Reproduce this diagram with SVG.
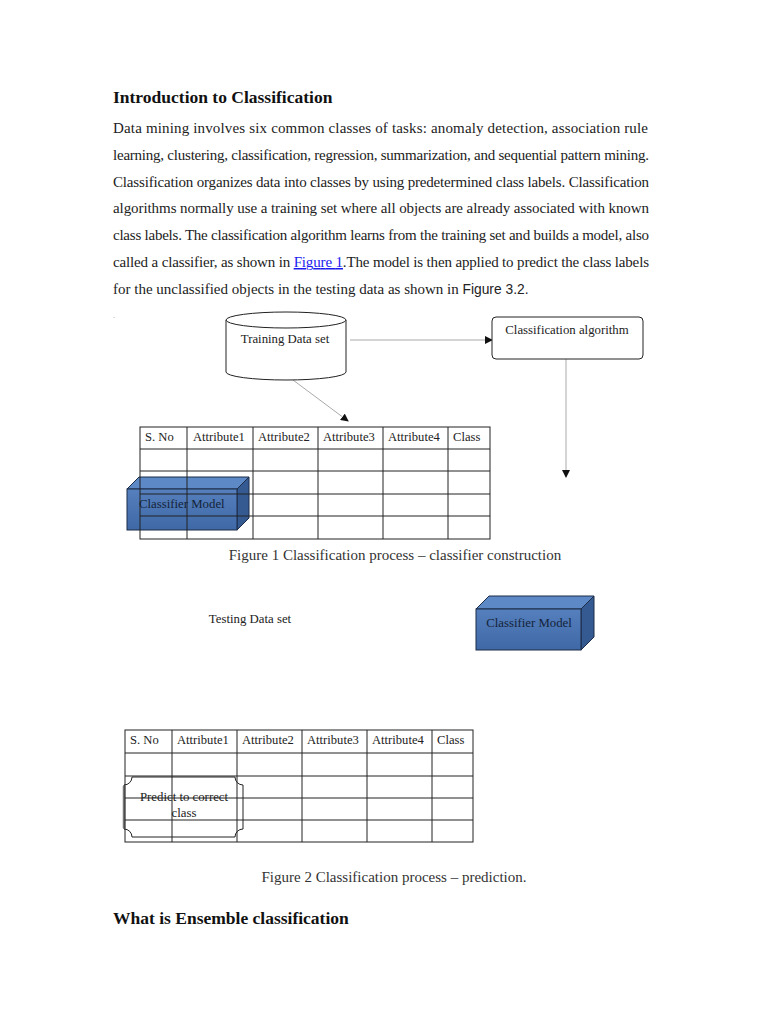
<svg xmlns="http://www.w3.org/2000/svg" width="768" height="1024" viewBox="0 0 768 1024">
<defs>
<marker id="ah" markerWidth="8" markerHeight="8" refX="7" refY="4" orient="auto" markerUnits="userSpaceOnUse">
<path d="M0,0 L8,4 L0,8 Z" fill="#111"/>
</marker>
<linearGradient id="gf" x1="0" y1="0" x2="0" y2="1">
<stop offset="0" stop-color="#5580bd"/>
<stop offset="1" stop-color="#3f68a6"/>
</linearGradient>
</defs>
<style>
.p{font-family:"Liberation Serif","Times New Roman",serif;font-size:15px;fill:#222}
.h{font-family:"Liberation Serif","Times New Roman",serif;font-size:17.5px;font-weight:bold;fill:#111}
.s{font-family:"Liberation Serif","Times New Roman",serif;font-size:12.8px;fill:#222}
.t{font-family:"Liberation Serif","Times New Roman",serif;font-size:12.6px;fill:#222}
.c{font-family:"Liberation Serif","Times New Roman",serif;font-size:15px;fill:#333}
.g{fill:none;stroke:#222;stroke-width:1}
.conn{stroke:#aaa;stroke-width:1;fill:none}
.front{fill:url(#gf);stroke:#1d2d48;stroke-width:1}
.top{fill:#5d89c6;stroke:#1d2d48;stroke-width:1}
.side{fill:#355a92;stroke:#1d2d48;stroke-width:1}
.ct{font-family:"Liberation Serif","Times New Roman",serif;font-size:12.8px;fill:#14233a}
</style>
<rect width="768" height="1024" fill="#fff"/>

<g id="text-body">
<text class="h" x="113" y="103">Introduction to Classification</text>
<text class="p" x="113" y="133" textLength="535" lengthAdjust="spacing">Data mining involves six common classes of tasks: anomaly detection, association rule</text>
<text class="p" x="113" y="160" textLength="536" lengthAdjust="spacing">learning, clustering, classification, regression, summarization, and sequential pattern mining.</text>
<text class="p" x="113" y="187" textLength="536" lengthAdjust="spacing">Classification organizes data into classes by using predetermined class labels. Classification</text>
<text class="p" x="113" y="213" textLength="536" lengthAdjust="spacing">algorithms normally use a training set where all objects are already associated with known</text>
<text class="p" x="113" y="240" textLength="536" lengthAdjust="spacing">class labels. The classification algorithm learns from the training set and builds a model, also</text>
<text class="p" x="113" y="267" textLength="536" lengthAdjust="spacing">called a classifier, as shown in <tspan fill="#1a1aee" text-decoration="underline">Figure 1</tspan>.The model is then applied to predict the class labels</text>
<text class="p" x="113" y="294">for the unclassified objects in the testing data as shown in <tspan style="font-family:'Liberation Sans',Arial,sans-serif;font-size:13.8px">Figure 3.2.</tspan></text>
<text x="113" y="318" style="font-family:'Liberation Serif',serif;font-size:8px;fill:#999">.</text>
</g>

<g id="connectors">
<line class="conn" x1="350" y1="340" x2="492" y2="340" marker-end="url(#ah)"/>
<line class="conn" x1="293" y1="380" x2="348" y2="421" marker-end="url(#ah)"/>
<line class="conn" x1="566" y1="359" x2="566" y2="477" marker-end="url(#ah)"/>
</g>

<g id="training-data">
<path d="M226,320 V372 A60,8 0 0 0 346,372 V320" fill="#fff" stroke="#222"/>
<ellipse cx="286" cy="320" rx="60" ry="8" fill="#fff" stroke="#222"/>
<text class="s" x="285" y="343" text-anchor="middle">Training Data set</text>
</g>

<g id="classification-algorithm">
<rect x="492" y="317" width="151" height="42" rx="4" fill="#fff" stroke="#222"/>
<text class="s" x="567" y="334" text-anchor="middle">Classification algorithm</text>
</g>

<g id="classifier-model-1">
<polygon class="top" points="127,489 139,477 249,477 237,489"/>
<polygon class="side" points="237,489 249,477 249,518 237,530"/>
<rect class="front" x="127" y="489" width="110" height="41"/>
<text class="ct" x="139" y="508">Classifier Model</text>
</g>

<g id="table-1">
<rect class="g" x="140" y="427" width="350" height="112"/>
<line class="g" x1="140" y1="449" x2="490" y2="449"/>
<line class="g" x1="140" y1="471" x2="490" y2="471"/>
<line class="g" x1="140" y1="494" x2="490" y2="494"/>
<line class="g" x1="140" y1="516" x2="490" y2="516"/>
<line class="g" x1="187" y1="427" x2="187" y2="539"/>
<line class="g" x1="253" y1="427" x2="253" y2="539"/>
<line class="g" x1="318" y1="427" x2="318" y2="539"/>
<line class="g" x1="383" y1="427" x2="383" y2="539"/>
<line class="g" x1="448" y1="427" x2="448" y2="539"/>
<text class="t" x="145" y="441">S. No</text>
<text class="t" x="193" y="441">Attribute1</text>
<text class="t" x="258" y="441">Attribute2</text>
<text class="t" x="323" y="441">Attribute3</text>
<text class="t" x="388" y="441">Attribute4</text>
<text class="t" x="453" y="441">Class</text>
</g>

<text class="c" x="395" y="560" text-anchor="middle">Figure 1 Classification process – classifier construction</text>

<g id="testing-data">
<text class="s" x="250" y="623" text-anchor="middle">Testing Data set</text>
</g>

<g id="classifier-model-2">
<polygon class="top" points="476,609 489,596 594,596 581,609"/>
<polygon class="side" points="581,609 594,596 594,637 581,650"/>
<rect class="front" x="476" y="609" width="105" height="41"/>
<text class="ct" x="529" y="627" text-anchor="middle">Classifier Model</text>
</g>

<g id="predict">
<path d="M132,777 H235 A8,8 0 0 0 243,785 V829 A8,8 0 0 0 235,837 H132 A8,8 0 0 0 124,829 V785 A8,8 0 0 0 132,777 Z" fill="none" stroke="#222"/>
<line x1="124" y1="786" x2="124" y2="828" stroke="#777" stroke-width="2.5"/>
<text class="s" x="184" y="801" text-anchor="middle">Predict to correct</text>
<text class="s" x="184" y="817" text-anchor="middle">class</text>
</g>

<g id="table-2">
<rect class="g" x="125" y="730" width="348" height="112"/>
<line class="g" x1="125" y1="753" x2="473" y2="753"/>
<line class="g" x1="125" y1="776" x2="473" y2="776"/>
<line class="g" x1="125" y1="798" x2="473" y2="798"/>
<line class="g" x1="125" y1="820" x2="473" y2="820"/>
<line class="g" x1="172" y1="730" x2="172" y2="842"/>
<line class="g" x1="237" y1="730" x2="237" y2="842"/>
<line class="g" x1="302" y1="730" x2="302" y2="842"/>
<line class="g" x1="367" y1="730" x2="367" y2="842"/>
<line class="g" x1="432" y1="730" x2="432" y2="842"/>
<text class="t" x="130" y="744">S. No</text>
<text class="t" x="177" y="744">Attribute1</text>
<text class="t" x="242" y="744">Attribute2</text>
<text class="t" x="307" y="744">Attribute3</text>
<text class="t" x="372" y="744">Attribute4</text>
<text class="t" x="437" y="744">Class</text>
</g>

<text class="c" x="394" y="882" text-anchor="middle">Figure 2 Classification process – prediction.</text>
<text class="h" x="113" y="924">What is Ensemble classification</text>
</svg>
